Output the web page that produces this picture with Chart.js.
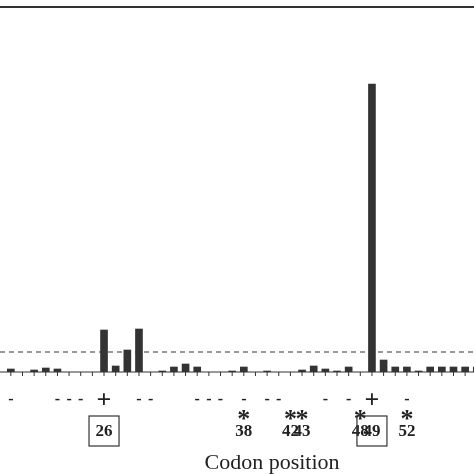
<!DOCTYPE html>
<html>
<head>
<meta charset="utf-8">
<script src="https://cdn.jsdelivr.net/npm/chart.js@4/dist/chart.umd.min.js"></script>
<style>
  html, body { margin: 0; padding: 0; background: #fff; }
  #wrap { width: 474px; height: 474px; }
</style>
</head>
<body>
<div id="wrap"><canvas id="chart"></canvas></div>
<script>
// codon positions and bar heights (arbitrary units)
const codons = [18, 20, 21, 22, 26, 27, 28, 29, 31, 32, 33, 34, 37, 38, 40, 43, 44, 45, 46, 47, 49, 50, 51, 52, 53, 54, 55, 56, 57, 58];
const values = [3, 2, 4, 3, 42, 6, 22, 43, 1, 5, 8, 5, 1, 5, 1, 2, 6, 3, 1, 5, 288, 12, 5, 5, 1, 5, 5, 5, 5, 5];
const threshold = 20;
const minusSigns = [18, 22, 23, 24, 29, 30, 34, 35, 36, 38, 40, 41, 45, 47, 52];
const plusSigns = [26, 49];
const starred = [38, 42, 43, 48, 52];
const numbered = [26, 38, 42, 43, 48, 49, 52];
const boxed = [26, 49];

const deco = {
  id: 'deco',
  afterDraw(chart) {
    const ctx = chart.ctx;
    const xs = chart.scales.x, ys = chart.scales.y;
    const base = ys.getPixelForValue(0);
    const area = chart.chartArea;
    ctx.save();
    ctx.strokeStyle = '#333';
    ctx.lineWidth = 2;
    ctx.beginPath(); ctx.moveTo(0, area.top); ctx.lineTo(474, area.top); ctx.stroke();
    ctx.lineWidth = 1;
    ctx.beginPath(); ctx.moveTo(0, base); ctx.lineTo(474, base);
    for (let c = 17; c <= 58; c++) {
      const x = xs.getPixelForValue(c);
      ctx.moveTo(x, base); ctx.lineTo(x, base + 4);
    }
    ctx.stroke();
    const ty = ys.getPixelForValue(threshold);
    ctx.setLineDash([5, 4]);
    ctx.beginPath(); ctx.moveTo(0, ty); ctx.lineTo(474, ty); ctx.stroke();
    ctx.setLineDash([]);

    ctx.fillStyle = '#222';
    ctx.textAlign = 'center';
    ctx.textBaseline = 'middle';
    ctx.font = 'bold 16px "Liberation Serif"';
    minusSigns.forEach(c => ctx.fillText('-', xs.getPixelForValue(c), 400));
    ctx.font = 'bold 26px "Liberation Serif"';
    plusSigns.forEach(c => ctx.fillText('+', xs.getPixelForValue(c), 401));
    ctx.font = 'bold 26px "Liberation Serif"';
    starred.forEach(c => ctx.fillText('*', xs.getPixelForValue(c), 420));
    ctx.font = 'bold 17px "Liberation Serif"';
    numbered.forEach(c => ctx.fillText(String(c), xs.getPixelForValue(c), 432));
    ctx.lineWidth = 1.2;
    boxed.forEach(c => {
      const x = xs.getPixelForValue(c);
      ctx.strokeRect(x - 15, 416, 30, 30);
    });
    ctx.font = '22px "Liberation Serif"';
    ctx.fillText('Codon position', 272, 463);
    ctx.restore();
  }
};

new Chart(document.getElementById('chart'), {
  type: 'bar',
  data: {
    datasets: [{
      data: codons.map((c, i) => ({ x: c, y: values[i] })),
      backgroundColor: '#333',
      barThickness: 7
    }]
  },
  options: {
    responsive: true,
    maintainAspectRatio: false,
    animation: false,
    layout: { padding: { top: 7, bottom: 102, left: 0, right: 0 } },
    plugins: { legend: { display: false }, tooltip: { enabled: false } },
    scales: {
      x: { type: 'linear', min: 17.07, max: 57.76, display: false, offset: false },
      y: { min: 0, max: 365, display: false }
    }
  },
  plugins: [deco]
});
</script>
</body>
</html>
